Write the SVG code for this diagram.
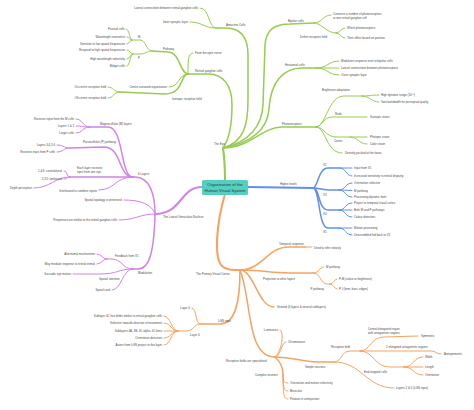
<svg xmlns="http://www.w3.org/2000/svg" width="474" height="410" viewBox="0 0 474 410">
<style>
path{fill:none;stroke-linecap:round;stroke-linejoin:round}
.g{stroke:#96cc50}.pu{stroke:#d084e6}.b{stroke:#5f90ea}.o{stroke:#f4a462}
.t1{stroke-width:2.1}.t2{stroke-width:1.5}.t3{stroke-width:1}
text{font-family:"Liberation Sans",Arial,sans-serif;font-size:2.9px;fill:#4a4a4a}
.e{text-anchor:end}
.c{font-size:4.2px;fill:#1d3b3a;text-anchor:middle}
</style>
<rect width="474" height="410" fill="#fff"/>
<g id="connectors">
<path class="g t1" d="M225,180 C225,165 224,155 223,148"/>
<path class="g t2" d="M223,148 C244,142 248,125 248,100 L248,55 C248,36 240,28 226,28 L216,28"/>
<path class="g t3" d="M216,28 C208,28 210,8 200,8"/>
<path class="g t3" d="M216,28 C203,28 203,22 190,22"/>
<path class="g t2" d="M223,148 C230,138 232,122 232,105 C232,86 224,74 208,74 L188,74"/>
<path class="g t3" d="M188,74 C188,60 188,53 193,53"/>
<path class="g t2" d="M188,74 C180,74 180,52 168,52 L152,51"/>
<path class="g t3" d="M152,51 C146,51 146,40 140,40 L132,40"/>
<path class="g t3" d="M132,40 C129,40 130,29 126,29"/>
<path class="g t3" d="M132,40 C129,40 130,37 127,37"/>
<path class="g t3" d="M132,40 C129,40 130,44 127,44"/>
<path class="g t3" d="M152,51 C146,51 146,54 140,54 L133,54"/>
<path class="g t3" d="M133,54 C130,54 130,50 127,50"/>
<path class="g t3" d="M133,54 C130,54 130,59 127,59"/>
<path class="g t3" d="M133,54 C130,54 130,66 127,66"/>
<path class="g t3" d="M188,74 C178,74 180,87 169,87"/>
<path class="g t2" d="M188,74 C180,74 184,94 165,94 L120,92"/>
<path class="g t3" d="M120,92 C113,92 114,87 108,87"/>
<path class="g t3" d="M120,92 C113,92 114,98 108,98"/>
<path class="g t2" d="M223,148 C250,142 262,125 263,105 L265,45 C266,30 274,24 290,24 L314,23"/>
<path class="g t3" d="M314,23 C322,23 323,15 331,15"/>
<path class="g t3" d="M314,23 C322,23 326,33 336,33"/>
<path class="g t3" d="M336,33 C340,33 341,28 345,28"/>
<path class="g t3" d="M336,33 C340,33 341,38 345,38"/>
<path class="g t2" d="M223,148 C255,142 268,128 269,108 C271,82 283,68 302,68 L316,68"/>
<path class="g t3" d="M316,68 C328,68 328,61 339,61"/>
<path class="g t3" d="M316,68 L339,68"/>
<path class="g t3" d="M316,68 C328,68 328,75 339,75"/>
<path class="g t2" d="M223,148 C250,148 262,127 282,127 L316,127"/>
<path class="g t3" d="M316,127 C326,127 328,96 344,96 L362,96"/>
<path class="g t3" d="M362,96 C370,96 371,95 379,95"/>
<path class="g t3" d="M362,96 C370,96 371,102 379,102"/>
<path class="g t3" d="M316,127 C322,127 323,117 332,117 L367,117"/>
<path class="g t3" d="M316,127 C324,127 326,137 336,137 L367,137"/>
<path class="g t3" d="M350,137 C358,137 359,144 367,144"/>
<path class="g t3" d="M316,127 C326,127 326,153 342,153"/>
<path class="b t1" d="M248,187 L313,188"/>
<path class="b t2" d="M313,188 C318,188 318,168 328,168 L340,168"/>
<path class="b t3" d="M340,168 L352,168"/>
<path class="b t3" d="M340,168 C346,168 346,176 352,176"/>
<path class="b t2" d="M313,188 C320,188 322,190 330,190 L339,190"/>
<path class="b t3" d="M339,190 C346,190 345,183 352,183"/>
<path class="b t3" d="M339,190 L352,190.5"/>
<path class="b t3" d="M339,190 C346,190 345,197 352,197"/>
<path class="b t2" d="M313,188 C320,188 318,210 328,210 L339,210"/>
<path class="b t3" d="M339,210 C346,210 345,203 352,203"/>
<path class="b t3" d="M339,210 L352,210"/>
<path class="b t3" d="M339,210 C346,210 345,217 352,217"/>
<path class="b t2" d="M313,188 C320,188 318,228 328,228 L339,228"/>
<path class="b t3" d="M339,228 L352,228"/>
<path class="b t3" d="M339,228 C346,228 345,235 352,235"/>
<path class="pu t1" d="M202,187 C180,187 182,214 155,214"/>
<path class="pu t2" d="M155,214 C155,195 150,177 135,177 L133,177"/>
<path class="pu t2" d="M133,177 C120,177 124,127 108,127 L90,127"/>
<path class="pu t3" d="M90,127 C82,127 83,119 76,119"/>
<path class="pu t3" d="M90,127 C82,127 83,126 76,126"/>
<path class="pu t3" d="M90,127 C82,127 83,133 76,133"/>
<path class="pu t2" d="M133,177 C118,177 122,147 104,147 L70,148"/>
<path class="pu t3" d="M70,148 C63,148 64,145 57,145"/>
<path class="pu t3" d="M70,148 C63,148 64,152 57,152"/>
<path class="pu t2" d="M133,177 L70,177"/>
<path class="pu t3" d="M70,177 C66,177 68,171 64,171"/>
<path class="pu t3" d="M70,177 C66,177 68,179 64,179"/>
<path class="pu t3" d="M70,177 C55,177 50,188 34,188"/>
<path class="pu t3" d="M133,177 C115,177 115,190 99,190"/>
<path class="pu t3" d="M155,214 C152,204 140,200 124,200"/>
<path class="pu t3" d="M155,214 C140,214 135,220 119,220"/>
<path class="pu t2" d="M155,214 C154,250 150,269 138,269 L133,269"/>
<path class="pu t3" d="M133,269 C122,269 122,259 112,259 L107,259"/>
<path class="pu t3" d="M107,259 C102,259 102,254 97,254"/>
<path class="pu t3" d="M107,259 C102,259 102,264 97,264"/>
<path class="pu t3" d="M133,269 C118,269 118,274 100,274 L73,274"/>
<path class="pu t3" d="M133,269 C122,269 122,290 112,290"/>
<path class="o t1" d="M225,194 C216,225 214,258 222,266 C226,270 232,270 240,270"/>
<path class="o t2" d="M240,270 C262,270 268,247 288,247 L305,247"/>
<path class="o t3" d="M305,247 L312,247"/>
<path class="o t2" d="M240,270 C262,270 270,273 290,273 L314,273"/>
<path class="o t3" d="M314,273 C319,273 319,267 324,267"/>
<path class="o t3" d="M314,273 C320,273 321,284 327,284 L330,284"/>
<path class="o t3" d="M330,284 C334,284 334,279 337,279"/>
<path class="o t3" d="M330,284 C334,284 334,289 337,289"/>
<path class="o t2" d="M240,270 C254,270 258,307 274,307"/>
<path class="o t2" d="M240,270 C240,300 236,324 220,324 L200,324"/>
<path class="o t3" d="M200,324 C195,324 197,308 192,308"/>
<path class="o t3" d="M200,324 C194,324 194,331 186,331 L178,331"/>
<path class="o t3" d="M178,331 C171,331 171,316 164,316"/>
<path class="o t3" d="M178,331 C171,331 171,323 164,323"/>
<path class="o t3" d="M178,331 L164,331"/>
<path class="o t3" d="M178,331 C171,331 171,338 164,338"/>
<path class="o t3" d="M178,331 C171,331 171,345 164,345"/>
<path class="o t2" d="M240,270 C252,300 246,357 275,357"/>
<path class="o t3" d="M275,357 C283,350 284,330 280,330"/>
<path class="o t3" d="M275,357 C281,357 281,342 286,342"/>
<path class="o t2" d="M275,357 C295,357 300,362 318,362 L334,362"/>
<path class="o t3" d="M334,362 C342,362 341,351 350,351 L360,351"/>
<path class="o t3" d="M360,351 C371,351 370,337 384,337 L418,336"/>
<path class="o t3" d="M360,351 L431,351 C436,351 436,354 441,354"/>
<path class="o t3" d="M360,351 C374,351 374,367 390,367 L404,367"/>
<path class="o t3" d="M404,367 C414,367 413,357 423,357"/>
<path class="o t3" d="M404,367 L423,367"/>
<path class="o t3" d="M404,367 C414,367 413,375 423,375"/>
<path class="o t3" d="M334,362 C362,362 366,388 394,388"/>
<path class="o t2" d="M275,357 C281,362 283,368 283,375"/>
<path class="o t3" d="M283,375 C283,381 284,383 288,383"/>
<path class="o t3" d="M283,375 C283,388 284,391 288,391"/>
<path class="o t3" d="M283,375 C283,396 284,399 288,399"/>
</g>
<g id="root"><rect x="202" y="180" width="46" height="15" rx="1.5" fill="#55cfc2"/><text class="c" x="225" y="186.3">Organization of the</text><text class="c" x="225" y="191.8">Human Visual System</text></g>
<g id="eye">
<g id="n-eye"><text x="214" y="145">The Eye</text></g>
<g id="n-amacrine"><text x="226" y="26">Amacrine Cells</text><text class="e" x="198" y="9">Lateral connections between retinal ganglion cells</text><text class="e" x="188" y="23">Inner synaptic layer</text></g>
<g id="n-rgc"><text x="195" y="72">Retinal ganglion cells</text><text x="195" y="54">Form the optic nerve</text>
<text x="163" y="50">Pathway</text><text x="138" y="37.5">M</text><text x="138" y="58.5">P</text>
<text class="e" x="124.5" y="30">Parasol cells</text><text class="e" x="125" y="38">Wavelength insensitive</text><text class="e" x="125" y="45">Sensitive to low spatial frequencies</text>
<text class="e" x="125" y="51">Respond to high spatial frequencies</text><text class="e" x="125" y="60">High wavelength selectivity</text><text class="e" x="125" y="67">Midget cells</text>
<text class="e" x="167" y="88">Centre-surround organisation</text><text x="172" y="99.5">Isotropic receptive field</text>
<text class="e" x="106" y="88">On-centre receptive field</text><text class="e" x="106" y="99">Off-centre receptive field</text></g>
<g id="n-bipolar"><text x="288" y="22">Bipolar cells</text><text x="333" y="14.5">Connects a number of photoreceptors</text><text x="333" y="18.5">to one retinal ganglion cell</text>
<text x="300" y="38">Define receptive field</text><text x="347" y="29">Which photoreceptors</text><text x="347" y="39">Their effect based on position</text></g>
<g id="n-horizontal"><text x="285" y="66">Horizontal cells</text><text x="341" y="62">Modulates response sent to bipolar cells</text><text x="341" y="69">Lateral connections between photoreceptors</text><text x="341" y="76">Outer synaptic layer</text></g>
<g id="n-photo"><text x="282" y="125">Photoreceptors</text><text x="322" y="91">Brightness adaptation</text><text x="381" y="96">High dynamic range (10¹⁰)</text><text x="381" y="103">Sets bandwidth for perceptual quality</text>
<text x="335" y="114.5">Rods</text><text x="370" y="118">Scotopic vision</text><text x="334" y="142">Cones</text><text x="370" y="138">Photopic vision</text><text x="370" y="145">Color vision</text><text x="345" y="154">Densely packed at the fovea</text></g>
</g>
<g id="higher">
<g id="n-higher"><text x="280" y="185">Higher levels</text></g>
<g id="n-v2"><text x="323" y="166">V2</text><text x="354" y="169">Input from V1</text><text x="354" y="177">Increased sensitivity to retinal disparity</text></g>
<g id="n-v3"><text x="323" y="196">V3</text><text x="354" y="184">Orientation selective</text><text x="354" y="191.5">M pathway</text><text x="354" y="198">Processing dynamic form</text></g>
<g id="n-v4"><text x="323" y="215">V4</text><text x="354" y="204">Project to temporal visual cortex</text><text x="354" y="211">Both M and P pathways</text><text x="354" y="218">Colour detection</text></g>
<g id="n-v5"><text x="323" y="233">V5</text><text x="354" y="229">Motion processing</text><text x="354" y="236">Unscrambled fed back to V2</text></g>
</g>
<g id="lgn">
<g id="n-lgn"><text x="163" y="218">The Lateral Geniculate Nucleus</text></g>
<g id="n-6layers"><text x="138" y="174.5">6 Layers</text>
<text x="100" y="125">Magnocellular (M) layers</text><text class="e" x="74" y="120">Receives input from the M cells</text><text class="e" x="74" y="127">Layers 1 &amp; 2</text><text class="e" x="74" y="134">Larger cells</text>
<text x="83" y="143">Parvocellular (P) pathway</text><text class="e" x="55" y="146">Layers 3,4,5,6</text><text class="e" x="55" y="153">Receives input from P cells</text>
<text x="77" y="169">Each layer receives</text><text x="77" y="172.8">input from one eye</text><text class="e" x="62" y="172">1,4,6: contralateral</text><text class="e" x="62" y="180">2,3,5: ipsilateral</text><text class="e" x="32" y="189">Depth perception</text>
<text class="e" x="97" y="192">Interleaved to combine inputs</text><text class="e" x="121.5" y="201">Spatial topology is preserved</text></g>
<g id="n-responses"><text class="e" x="117" y="221">Responses are similar to the retinal ganglion cells</text></g>
<g id="n-modulation"><text x="138" y="273.5">Modulation</text><text x="115" y="257">Feedback from V1</text><text class="e" x="95" y="255">Attentional mechanisms</text><text class="e" x="95" y="265">May mediate response to retinal stimuli</text>
<text x="99" y="280">Spatial attention</text><text class="e" x="71" y="275">Saccadic eye motion</text><text class="e" x="110" y="291">Spinal cord</text></g>
</g>
<g id="v1">
<g id="n-v1"><text x="196" y="274.5">The Primary Visual Cortex</text></g>
<g id="n-temporal"><text x="279" y="244.5">Temporal response</text><text x="314" y="249">Used to infer velocity</text></g>
<g id="n-projection"><text x="263" y="280">Projection to other layers</text><text x="326" y="268">M pathway</text><text class="e" x="324" y="290">P pathway</text><text x="339" y="280">P-B (colour or brightness)</text><text x="339" y="290">P-I (form, bars, edges)</text></g>
<g id="n-striated"><text x="277" y="308">Striated (6 layers &amp; several sublayers)</text></g>
<g id="n-lgninput"><text x="218" y="322">LGN input</text><text class="e" x="190" y="309">Layer 6</text><text x="190" y="336">Layer 4</text>
<text class="e" x="162" y="317">Sublayer 4C has fields similar to retinal ganglion cells</text><text class="e" x="162" y="324">Selective towards direction of movement</text><text class="e" x="162" y="332">Sublayers 4A, 4B, 4C alpha, 4C beta</text><text class="e" x="162" y="339">Orientation detection</text><text class="e" x="162" y="346">Axons from LGN project to this layer</text></g>
<g id="n-rf"><text x="226" y="362">Receptive fields are specialised</text><text class="e" x="278" y="331">Luminance</text><text x="288" y="342.5">Chrominance</text>
<text x="305" y="368">Simple neurons</text><text x="331" y="348">Receptive field</text><text x="368" y="330">Central elongated region</text><text x="368" y="334.2">with antagonistic regions</text><text x="421" y="337">Symmetric</text>
<text x="386" y="348">2 elongated antagonistic regions</text><text x="444" y="355">Antisymmetric</text><text x="364" y="373">End-stopped cells</text><text x="425" y="358">Width</text><text x="425" y="368">Length</text><text x="425" y="376">Orientation</text>
<text x="396" y="389">Layers 2 &amp; 3 (LGN input)</text>
<text x="255" y="376">Complex neurons</text><text x="290" y="384">Orientation and motion selectivity</text><text x="290" y="392">Binocular</text><text x="290" y="400">Position is unimportant</text></g>
</g>
</svg>
